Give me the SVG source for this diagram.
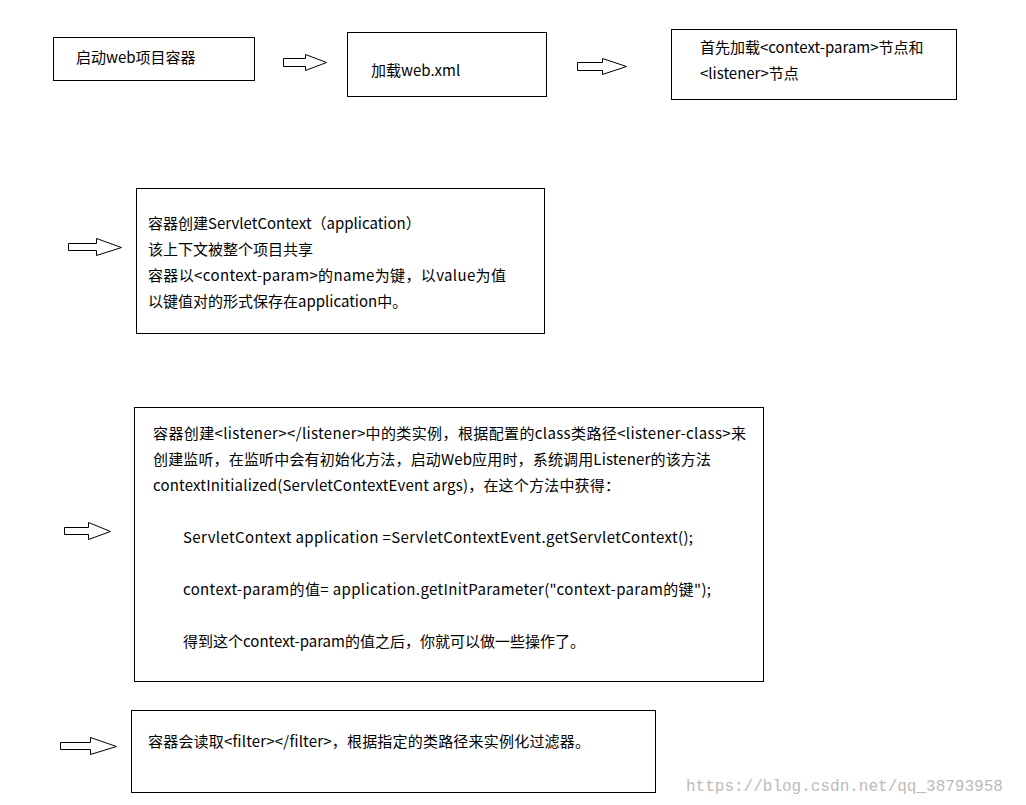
<svg xmlns="http://www.w3.org/2000/svg" width="1026" height="805" viewBox="0 0 1026 805">
<style>
rect.box{fill:#fff;stroke:#000;stroke-width:1}
text{font-family:"Microsoft YaHei","Noto Sans CJK SC",sans-serif;font-size:15px;fill:#000}
.arr{fill:#fff;stroke:#000;stroke-width:1}
.wm{font-family:"Liberation Mono",monospace;font-size:16px;fill:#bbb}
</style>
<rect width="1026" height="805" fill="#fff"/>
<g id="n1"><rect class="box" x="53.5" y="37.5" width="201" height="43"/><text x="76" y="63">启动web项目容器</text></g>
<g id="n2"><rect class="box" x="347.5" y="32.5" width="199" height="64"/><text x="371" y="76">加载web.xml</text></g>
<g id="n3"><rect class="box" x="671.5" y="29.5" width="285" height="70"/><text x="700" y="53">首先加载&lt;context-param&gt;节点和</text><text x="700" y="79">&lt;listener&gt;节点</text></g>
<g id="n4"><rect class="box" x="136.5" y="188.5" width="408" height="145"/>
<text x="148" y="229">容器创建ServletContext（application）</text>
<text x="148" y="255">该上下文被整个项目共享</text>
<text x="148" y="281" textLength="358">容器以&lt;context-param&gt;的name为键，以value为值</text>
<text x="148" y="307">以键值对的形式保存在application中。</text></g>
<g id="n5"><rect class="box" x="134.5" y="407.5" width="629" height="274"/>
<text x="153" y="439" textLength="593">容器创建&lt;listener&gt;&lt;/listener&gt;中的类实例，根据配置的class类路径&lt;listener-class&gt;来</text>
<text x="153" y="465" textLength="558">创建监听，在监听中会有初始化方法，启动Web应用时，系统调用Listener的该方法</text>
<text x="153" y="491" textLength="467">contextInitialized(ServletContextEvent args)，在这个方法中获得：</text>
<text x="183" y="543" textLength="510">ServletContext application =ServletContextEvent.getServletContext();</text>
<text x="183" y="595" textLength="528">context-param的值= application.getInitParameter("context-param的键");</text>
<text x="183" y="647">得到这个context-param的值之后，你就可以做一些操作了。</text></g>
<g id="n6"><rect class="box" x="131.5" y="710.5" width="524" height="82"/>
<text x="148" y="747" textLength="442">容器会读取&lt;filter&gt;&lt;/filter&gt;，根据指定的类路径来实例化过滤器。</text></g>
<g id="connectors">
<path class="arr" d="M283.5 58.5h22v-4l21 8-21 8v-4h-22z"/>
<path class="arr" d="M577.5 62.5h25v-4l24 8-24 8v-4h-25z"/>
<path class="arr" d="M68.5 243.5h28v-5l25 9-25 8v-5h-28z"/>
<path class="arr" d="M64.5 527.5h24v-5l22 9-22 8v-5h-24z"/>
<path class="arr" d="M60.5 742.5h30v-5l26 9-26 8v-5h-30z"/>
</g>
<text class="wm" x="686" y="791">https://blog.csdn.net/qq_38793958</text>
</svg>
